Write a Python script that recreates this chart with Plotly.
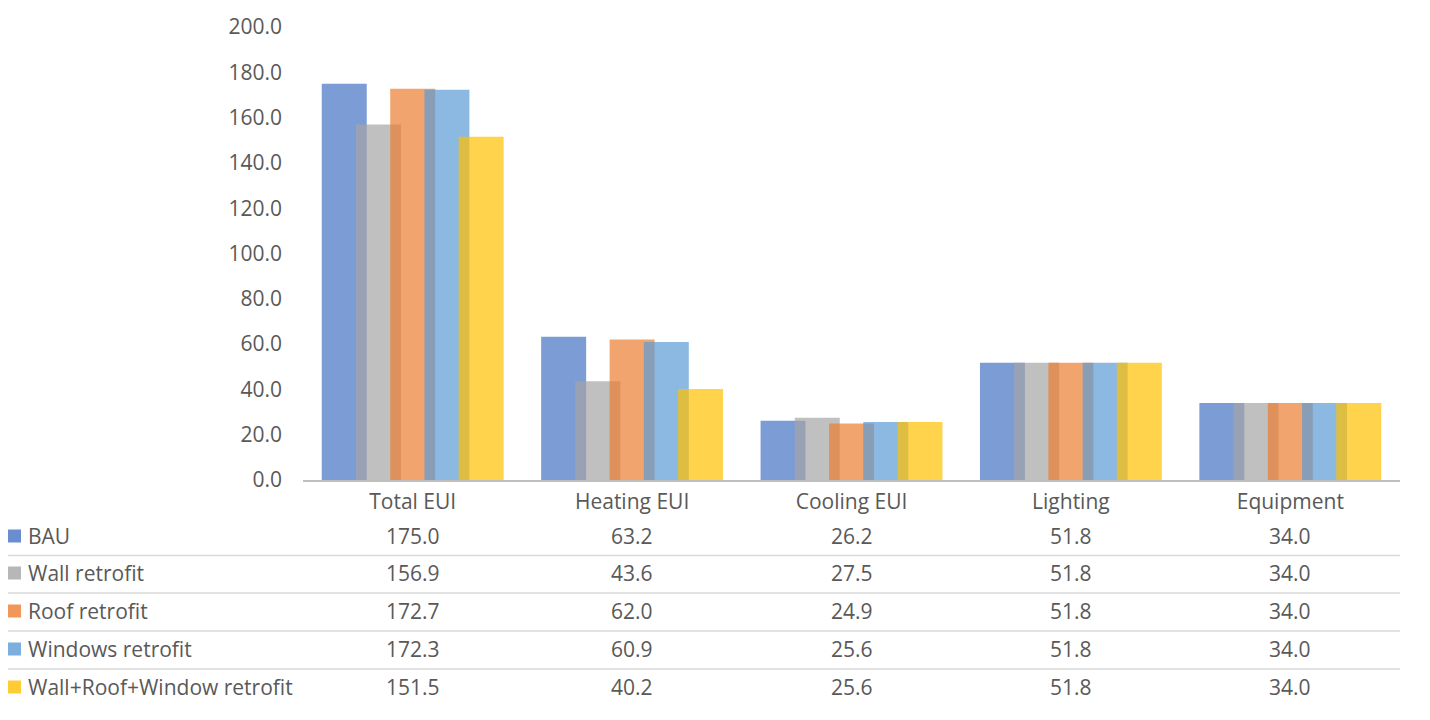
import plotly.graph_objects as go

# Data
categories = ["Total EUI", "Heating EUI", "Cooling EUI", "Lighting", "Equipment"]
series_names = ["BAU", "Wall retrofit", "Roof retrofit", "Windows retrofit", "Wall+Roof+Window retrofit"]
bau = [175.0, 63.2, 26.2, 51.8, 34.0]
wall = [156.9, 43.6, 27.5, 51.8, 34.0]
roof = [172.7, 62.0, 24.9, 51.8, 34.0]
windows = [172.3, 60.9, 25.6, 51.8, 34.0]
combined = [151.5, 40.2, 25.6, 51.8, 34.0]
y_ticks = [0, 20, 40, 60, 80, 100, 120, 140, 160, 180, 200]

all_series = [bau, wall, roof, windows, combined]
colors = ["rgba(68,114,196,0.7)", "rgba(165,165,165,0.7)", "rgba(237,125,49,0.7)",
          "rgba(91,155,213,0.7)", "rgba(255,192,0,0.7)"]

# page has an 8px body margin, so work in figure pixels = screen pixels - 8
OFF = 8
W, H = 1430, 720
L = 303 - OFF
T = 27 - OFF
R = W - (1400 - OFF)
B = H - (480 - OFF)
plot_h = H - T - B
plot_w = W - L - R
FONT = "Open Sans"
GREY = "#595959"
FS = 21


def py(ypix):
    # screen row -> paper y
    return (H - B - (ypix - OFF)) / plot_h


def px(xpix):
    return (xpix - OFF - L) / plot_w


fig = go.Figure()

bar_w = 0.205
step = 0.156
for i, (name, vals, col) in enumerate(zip(series_names, all_series, colors)):
    fig.add_trace(go.Bar(
        x=categories, y=vals, name=name,
        marker=dict(color=col, line=dict(width=0)),
        width=bar_w, offset=(i - 2) * step - bar_w / 2,
        showlegend=False,
    ))

# data table under the chart
row_y = [536, 573, 611, 649, 687]
for i, (name, vals, col) in enumerate(zip(series_names, all_series, colors)):
    yc = py(row_y[i])
    fig.add_shape(type="rect", xref="paper", yref="paper",
                  x0=px(8), x1=px(21), y0=yc - 6.5 / plot_h, y1=yc + 6.5 / plot_h,
                  line=dict(width=0), fillcolor=col.replace("0.7)", "0.8)"))
    fig.add_annotation(x=px(26), y=yc, xref="paper", yref="paper",
                       text=name, showarrow=False, xanchor="left", yanchor="middle",
                       font=dict(family=FONT, size=FS, color=GREY))
    for c, v in zip(categories, vals):
        fig.add_annotation(x=c, y=yc, xref="x", yref="paper",
                           text=f"{v:.1f}", showarrow=False, yanchor="middle",
                           font=dict(family=FONT, size=FS, color=GREY))
    if i < len(series_names) - 1:
        ly = py((row_y[i] + row_y[i + 1]) / 2 + 1)
        fig.add_shape(type="line", xref="paper", yref="paper",
                      x0=px(0), x1=px(1400), y0=ly, y1=ly,
                      line=dict(color="#D9D9D9", width=1.5))

fig.update_layout(
    width=W, height=H,
    margin=dict(l=L, r=R, t=T, b=B),
    barmode="overlay",
    plot_bgcolor="white", paper_bgcolor="white",
    font=dict(family=FONT, size=FS, color=GREY),
    xaxis=dict(showline=True, linecolor="#BFBFBF", linewidth=2, ticks="",
               showgrid=False, tickfont=dict(size=FS, color=GREY), ticklabelstandoff=2,
               automargin=False),
    yaxis=dict(range=[0, 200], tickvals=y_ticks, tickformat=".1f", showgrid=False,
               zeroline=False, showline=False, ticklabelstandoff=20,
               tickfont=dict(size=FS, color=GREY), automargin=False),
)

fig.write_html("out.html")
